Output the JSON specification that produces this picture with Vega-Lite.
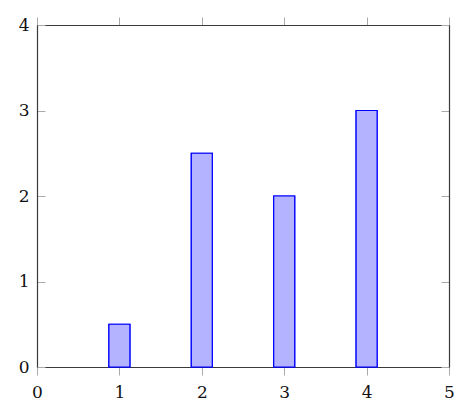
{
  "$schema": "https://vega.github.io/schema/vega-lite/v6.json",
  "width": 412,
  "height": 342,
  "autosize": {"type": "none"},
  "padding": {"left": 37, "top": 25, "right": 25, "bottom": 50},
  "background": "white",
  "config": {
    "view": {"stroke": null},
    "axis": {
      "grid": false,
      "domainColor": "#3a3a3a",
      "domainWidth": 1.2,
      "tickColor": "#aaaaaa",
      "tickWidth": 1,
      "labelFont": "DejaVu Serif",
      "labelFontSize": 17,
      "labelColor": "#111111",
      "title": null
    }
  },
  "data": {"values": [
    {"x": 1, "y": 0.5},
    {"x": 2, "y": 2.5},
    {"x": 3, "y": 2},
    {"x": 4, "y": 3}
  ]},
  "resolve": {"axis": {"x": "independent", "y": "independent"}},
  "layer": [
    {
      "mark": {"type": "bar", "width": 21, "fill": "#b3b3ff", "stroke": "#0000ff", "strokeWidth": 1.2},
      "encoding": {
        "x": {"field": "x", "type": "quantitative", "scale": {"domain": [0, 5], "nice": false, "zero": false, "padding": 0},
              "axis": {"orient": "bottom", "values": [0,1,2,3,4,5], "tickSize": 8, "labelPadding": 9, "labelFlush": false, "labelOverlap": false}},
        "y": {"field": "y", "type": "quantitative", "stack": null, "scale": {"domain": [0, 4], "nice": false, "padding": 0},
              "axis": {"orient": "left", "values": [0,1,2,3,4], "tickSize": -8, "labelPadding": 16, "labelFlush": false, "labelOverlap": false}}
      }
    },
    {
      "mark": {"type": "bar", "width": 21, "fill": "#b3b3ff", "stroke": "#0000ff", "strokeWidth": 1.2},
      "encoding": {
        "x": {"field": "x", "type": "quantitative",
              "axis": {"orient": "top", "values": [0,1,2,3,4,5], "tickSize": 8, "labels": false}},
        "y": {"field": "y", "type": "quantitative", "stack": null,
              "axis": {"orient": "right", "values": [0,1,2,3,4], "tickSize": -8, "labels": false}}
      }
    }
  ]
}
